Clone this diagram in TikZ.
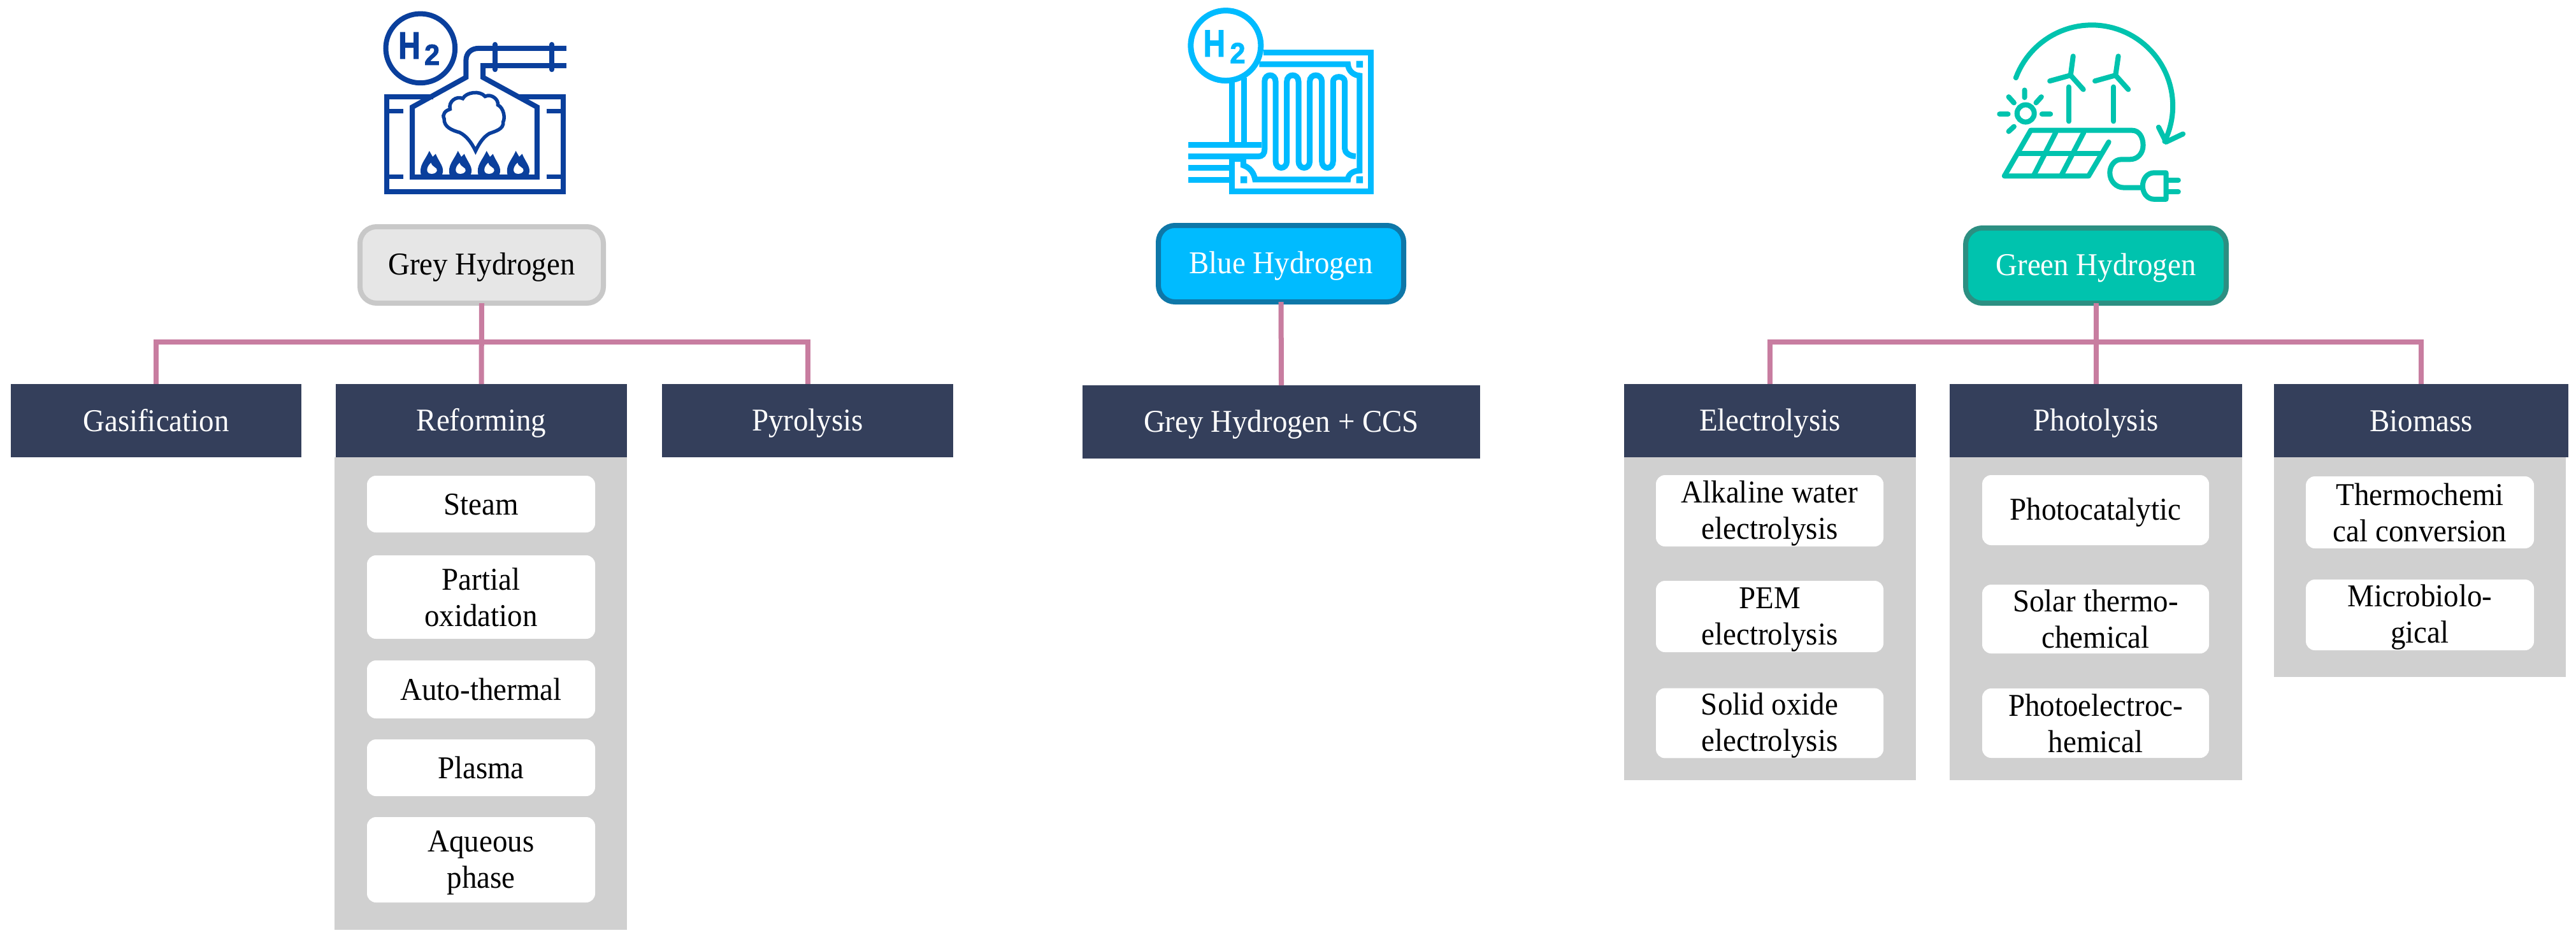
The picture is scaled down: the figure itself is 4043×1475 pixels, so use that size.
\documentclass[tikz,border=0pt]{standalone}
\usepackage{fontspec}
\setmainfont[FakeStretch=0.94]{Liberation Serif}
\setsansfont{Liberation Sans}
\newfontfamily\hfont[UprightFont={* Bold},FakeBold=2]{Liberation Sans}
\definecolor{head}{HTML}{343F5B}
\definecolor{panel}{HTML}{D0D0D0}
\definecolor{pink}{HTML}{C87DA0}
\definecolor{icgrey}{HTML}{0A3F9C}
\definecolor{icblue}{HTML}{00BBFF}
\definecolor{icgreen}{HTML}{00C3AE}
\definecolor{greyfill}{HTML}{E6E6E6}
\definecolor{greyline}{HTML}{C8C8C8}
\definecolor{blueline}{HTML}{0E77A8}
\definecolor{greenline}{HTML}{2C8F82}
\newcommand{\ru}{\rule[-0.08cm]{0pt}{0.50cm}}
% name, x1, y1, x2, y2, style, text
\newcommand{\bx}[7]{\node[#6,minimum width={(#4-#2)*0.01cm},minimum height={(#5-#3)*0.01cm}] (#1) at ({(#2+#4)/2},{(#3+#5)/2}) {#7};}
\tikzset{
  lab/.style={font=\fontsize{14.2}{16.2}\selectfont,align=center,inner sep=0pt,outer sep=0pt},
  header/.style={lab,fill=head,text=white},
  panelbox/.style={lab,fill=panel},
  item/.style={lab,fill=white,text=black,rounded corners=0.14cm},
  topbox/.style={lab,line width=0.08cm,rounded corners=0.26cm},
  conn/.style={draw=pink,line width=0.08cm},
  iconline/.style={line width=0.08cm,line join=miter},
  hbig/.style={font=\hfont\fontsize{17}{17}\selectfont,inner sep=0pt},
  hsmall/.style={font=\hfont\fontsize{13}{13}\selectfont,inner sep=0pt},
  icscope/.style={x=0.0033333cm,y=-0.0033333cm}
}
\begin{document}
\begin{tikzpicture}[x=0.01cm,y=-0.01cm]
\useasboundingbox[fill=white] (0,0) rectangle (4043,1475);

% ---- panels
\bx{prefo}{525}{718}{984}{1460}{panelbox}{}
\bx{pelec}{2549}{718}{3007}{1225}{panelbox}{}
\bx{pphot}{3060}{718}{3519}{1225}{panelbox}{}
\bx{pbiom}{3569}{718}{4027}{1063}{panelbox}{}

% ---- top boxes
\bx{grey}{565}{356}{947}{476}{topbox,fill=greyfill,draw=greyline,text=black}{\ru Grey Hydrogen}
\bx{blue}{1818}{354}{2203}{474}{topbox,fill=icblue,draw=blueline,text=white}{\ru Blue Hydrogen}
\bx{green}{3085}{358}{3494}{476}{topbox,fill=icgreen,draw=greenline,text=white}{\ru Green Hydrogen}

% ---- headers
\bx{gasi}{17}{603}{473}{718}{header}{\ru Gasification}
\bx{refo}{527}{603}{984}{718}{header}{\ru Reforming}
\bx{pyro}{1039}{603}{1496}{718}{header}{\ru Pyrolysis}
\bx{ccs}{1699}{605}{2323}{720}{header}{\ru Grey Hydrogen + CCS}
\bx{elec}{2549}{603}{3007}{718}{header}{\ru Electrolysis}
\bx{phot}{3060}{603}{3519}{718}{header}{\ru Photolysis}
\bx{biom}{3569}{603}{4031}{718}{header}{\ru Biomass}

% ---- items
\bx{steam}{576}{747}{934}{836}{item}{\ru Steam}
\bx{part}{576}{872}{934}{1003}{item}{\ru Partial\\\ru oxidation}
\bx{auto}{576}{1037}{934}{1128}{item}{\ru Auto-thermal}
\bx{plas}{576}{1161}{934}{1250}{item}{\ru Plasma}
\bx{aque}{576}{1283}{934}{1417}{item}{\ru Aqueous\\\ru phase}
\bx{alka}{2599}{746}{2956}{858}{item}{\ru Alkaline water\\\ru electrolysis}
\bx{pem}{2599}{912}{2956}{1024}{item}{\ru PEM\\\ru electrolysis}
\bx{soli}{2599}{1081}{2956}{1190}{item}{\ru Solid oxide\\\ru electrolysis}
\bx{pcat}{3111}{746}{3467}{856}{item}{\ru Photocatalytic}
\bx{sola}{3111}{918}{3467}{1026}{item}{\ru Solar thermo-\\\ru chemical}
\bx{pele}{3111}{1081}{3467}{1190}{item}{\ru Photoelectroc-\\\ru hemical}
\bx{ther}{3619}{748}{3977}{861}{item}{\ru Thermochemi\\\ru cal conversion}
\bx{micr}{3619}{910}{3977}{1021}{item}{\ru Microbiolo-\\\ru gical}

% ---- connectors
\coordinate (gbar) at (756,537);
\coordinate (gnbar) at (3289.5,537);
\draw[conn] (grey.south) -- (refo.north);
\draw[conn] (gasi.north) |- (gbar) -| (pyro.north);
\draw[conn] (blue.south) -- (ccs.north);
\draw[conn] (green.south) -- (phot.north);
\draw[conn] (elec.north) |- (gnbar) -| (biom.north);

% ---- grey hydrogen icon
\begin{scope}[shift={(550,0)},icscope,draw=icgrey,iconline]
  \draw (330,228) circle[radius=0.543cm];
  \node[hbig,text=icgrey] (gh) at (278,215) {\scalebox{.8}[1]{H}};
  \node[hsmall,text=icgrey] (gt) at (385,258) {\scalebox{.95}[1]{2}};
  \draw (390,458) -- (170,458) -- (170,903) -- (1005,903) -- (1005,458) -- (790,458);
  \draw[line width=0.07cm] (183,525) -- (248,525) (183,835) -- (248,835) (925,525) -- (995,525) (925,835) -- (995,835);
  \draw (292,835) -- (292,505) -- (545,365) -- (545,285) .. controls (545,250) and (570,228) .. (605,228) -- (1018,228);
  \draw (880,835) -- (880,505) -- (625,365) -- (625,310) -- (1018,310);
  \draw (280,835) -- (892,835);
  \draw[line width=0.08cm,line cap=round] (682,210) -- (682,328) (950,210) -- (950,328);
  \draw[line width=0.055cm] (590,712) .. controls (570,670) and (545,640) .. (515,625)
    .. controls (480,615) and (440,600) .. (442,560)
    .. controls (430,540) and (450,520) .. (470,515)
    .. controls (460,480) and (500,450) .. (530,465)
    .. controls (545,435) and (610,425) .. (635,455)
    .. controls (665,440) and (700,470) .. (695,495)
    .. controls (725,510) and (730,560) .. (720,575)
    .. controls (725,610) and (680,620) .. (655,630)
    .. controls (630,645) and (610,670) .. (590,712) -- cycle;
  \foreach \d in {0,135,270,408}{
    \begin{scope}[xshift=\d*0.0033333cm]
    \fill[icgrey] (333,825) .. controls (322,780) and (350,760) .. (372,712) -- (388,740) -- (402,726) .. controls (420,770) and (447,790) .. (432,825) -- cycle;
    \fill[white] (383,820) .. controls (355,820) and (355,790) .. (380,768) .. controls (385,790) and (412,790) .. (408,805) .. controls (405,815) and (395,820) .. (383,820) -- cycle;
    \end{scope}}
\end{scope}

% ---- blue hydrogen icon
\begin{scope}[shift={(1820,20)},icscope,draw=icblue,line width=0.09cm]
  \draw (312,155) circle[radius=0.55cm];
  \node[hbig,text=icblue] (bh) at (258,145) {\scalebox{.8}[1]{H}};
  \node[hsmall,text=icblue] (bt) at (368,190) {\scalebox{.95}[1]{2}};
  \draw (490,187) -- (995,187) -- (995,843) -- (342,843) -- (342,690);
  \draw (342,325) -- (342,610) (398,305) -- (398,610);
  \draw (135,623) -- (480,623);
  \draw (135,733) -- (342,733) (135,788) -- (342,788);
  \draw (135,678) -- (465,678) .. controls (485,678) and (495,665) .. (495,645) -- (495,325)
    .. controls (495,285) and (547,285) .. (547,325) -- (547,700)
    .. controls (547,742) and (600,742) .. (600,700) -- (600,325)
    .. controls (600,285) and (655,285) .. (655,325) -- (655,700)
    .. controls (655,742) and (708,742) .. (708,700) -- (708,325)
    .. controls (708,285) and (765,285) .. (765,325) -- (765,700)
    .. controls (765,742) and (818,742) .. (818,700) -- (818,325)
    .. controls (818,295) and (873,295) .. (873,325) -- (873,640)
    .. controls (873,660) and (895,677) .. (925,677);
  \draw (470,243) -- (888,243) .. controls (890,275) and (915,295) .. (943,297) -- (943,745)
    .. controls (910,745) and (888,765) .. (888,787) -- (450,787)
    .. controls (445,755) and (425,730) .. (395,720) -- (395,690) -- (342,690);
  \fill[icblue] (927,227) rectangle (959,259) (927,772) rectangle (959,804) (381,772) rectangle (413,804);
\end{scope}

% ---- green hydrogen icon
\begin{scope}[shift={(3080,20)},icscope,draw=icgreen,line width=0.08cm,line cap=round,line join=round]
  \draw plot[domain=159.6:-25.9,samples=60] ({610+382*cos(\x)},{440-382*sin(\x)});
  \draw (925,540) -- (960,610) -- (1040,572);
  \draw (510,295) -- (522,205) (510,295) -- (412,322) (510,295) -- (570,362);
  \draw (502,350) -- (502,512);
  \draw (722,295) -- (735,205) (722,295) -- (625,322) (722,295) -- (782,362);
  \draw (713,350) -- (713,512);
  \draw (298,475) circle[radius=0.135cm];
  \draw (175,478) -- (215,478) (375,478) -- (415,478) (293,365) -- (293,400)
    (218,397) -- (243,425) (372,397) -- (347,425) (218,560) -- (243,537);
  \draw (198,770) -- (322,555) -- (800,555) .. controls (835,555) and (852,590) .. (852,625)
    .. controls (852,665) and (825,692) .. (790,692) -- (750,692)
    .. controls (715,692) and (695,725) .. (695,755) .. controls (695,795) and (725,825) .. (760,825) -- (850,825);
  \draw (198,770) -- (595,770) -- (690,610);
  \draw (262,665) -- (650,665);
  \draw (335,770) -- (440,565) (465,770) -- (572,565);
  \draw (960,755) -- (905,755) .. controls (870,755) and (850,785) .. (850,817) .. controls (850,850) and (870,880) .. (905,880) -- (960,880) -- cycle;
  \draw (965,790) -- (1018,790) (965,845) -- (1018,845);
\end{scope}
\end{tikzpicture}
\end{document}
